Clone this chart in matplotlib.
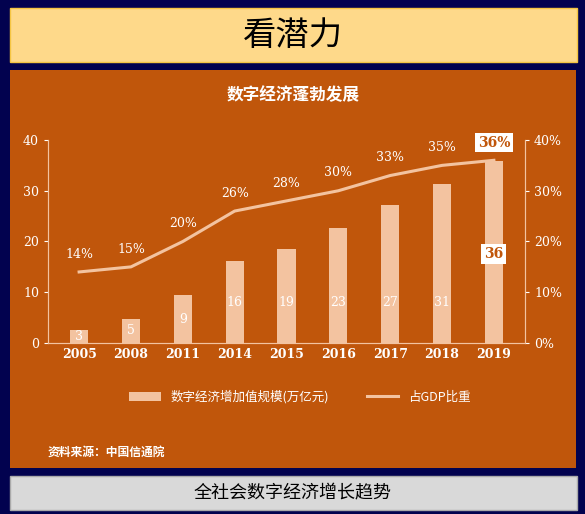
import matplotlib
matplotlib.use("Agg")
import matplotlib.pyplot as plt
from matplotlib.patches import Rectangle
import numpy as np

plt.rcParams['font.family'] = ['Noto Sans CJK SC', 'DejaVu Sans']

years = ["2005", "2008", "2011", "2014", "2015", "2016", "2017", "2018", "2019"]
scale = [2.6, 4.8, 9.4, 16.2, 18.6, 22.6, 27.2, 31.3, 35.8]
scale_labels = ["3", "5", "9", "16", "19", "23", "27", "31", "36"]
share = [14, 15, 20, 26, 28, 30, 33, 35, 36]

W, H = 585, 514
fig = plt.figure(figsize=(W/100, H/100), dpi=100)
fig.patch.set_facecolor("#02024f")

def rect(x, y, w, h, **kw):
    fig.add_artist(Rectangle((x/W, 1-(y+h)/H), w/W, h/H, transform=fig.transFigure, zorder=-10, **kw))

rect(10, 8, 567, 54, facecolor="#fed98a", edgecolor="#f5c542", lw=1)
fig.text(293/W, 1-35/H, "看潜力", ha="center", va="center", fontsize=24, color="black")
rect(10, 70, 566, 398, facecolor="#c0560b", edgecolor="none")
rect(10, 476, 567, 34, facecolor="#d9d9d9", edgecolor="#aaaaaa", lw=1)
fig.text(293/W, 1-493/H, "全社会数字经济增长趋势", ha="center", va="center", fontsize=13, color="black")
fig.text(293/W, 1-95/H, "数字经济蓬勃发展", ha="center", va="center", fontsize=12, color="white", fontweight="bold")
fig.text(48/W, 1-452/H, "资料来源：中国信通院", ha="left", va="center", fontsize=8.5, color="white", fontweight="bold")

ax = fig.add_axes([48/W, 1-343/H, 477/W, 203/H])
ax.set_facecolor("none")
x = np.arange(len(years))
bc = "#f3c3a0"
ax.bar(x, scale, width=0.35, color=bc, label="数字经济增加值规模(万亿元)")
ax.set_ylim(0, 40)
ax.set_xlim(-0.6, len(years)-0.4)
ax.set_yticks([0, 10, 20, 30, 40])
for i, (v, l) in enumerate(zip(scale, scale_labels)):
    if i == len(years)-1:
        ax.text(i, 17.5, l, ha="center", va="center", fontsize=10, color="#c0560b", fontweight="bold",
                family="DejaVu Serif", bbox=dict(facecolor="white", edgecolor="none", pad=2))
    else:
        ax.text(i, v/2 if v < 10 else 8, l, ha="center", va="center", fontsize=9, color="white", family="DejaVu Serif")

ax2 = ax.twinx()
ax2.plot(x, share, color="#f3c3a0", lw=2.2, label="占GDP比重")
ax2.set_ylim(0, 40)
ax2.set_yticks([0, 10, 20, 30, 40])
ax2.set_yticklabels([f"{t}%" for t in [0, 10, 20, 30, 40]])
for i, s in enumerate(share):
    if i == len(years)-1:
        ax2.text(i, s+3.5, f"{s}%", ha="center", va="center", fontsize=10, color="#c0560b", fontweight="bold",
                 family="DejaVu Serif", bbox=dict(facecolor="white", edgecolor="none", pad=2))
    else:
        ax2.text(i, s+3.5, f"{s}%", ha="center", va="center", fontsize=9, color="white", family="DejaVu Serif")

for a in (ax, ax2):
    a.tick_params(colors="white", labelsize=9, length=3)
    for s in a.spines.values():
        s.set_color("#f3c3a0")
    a.spines["top"].set_visible(False)
ax.set_xticks(x)
ax.set_xticklabels(years, family="DejaVu Serif", fontweight="bold")
ax.tick_params(axis="x", length=0)
for lab in ax.get_yticklabels() + ax2.get_yticklabels():
    lab.set_family("DejaVu Serif")

h1, l1 = ax.get_legend_handles_labels()
h2, l2 = ax2.get_legend_handles_labels()
fig.legend(h1+h2, l1+l2, loc="center", bbox_to_anchor=(300/W, 1-397/H), ncol=2, frameon=False,
           labelcolor="white", fontsize=9, handlelength=2.5, columnspacing=3)

fig.savefig("out.png", dpi=100, facecolor=fig.get_facecolor())
